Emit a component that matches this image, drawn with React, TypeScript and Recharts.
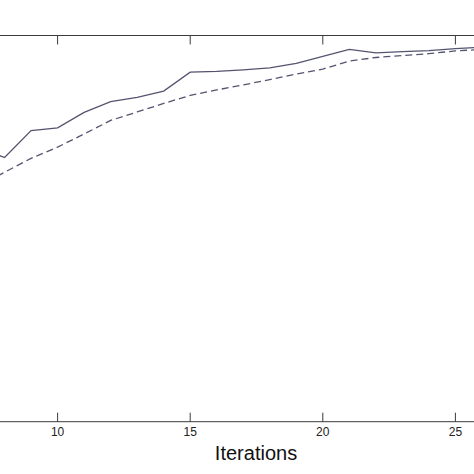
import { LineChart, Line, XAxis, YAxis } from "recharts";

// iterations shown (plot is cropped on both sides)
const iterations = [7, 8, 9, 10, 11, 12, 13, 14, 15, 16, 17, 18, 19, 20, 21, 22, 23, 24, 25, 26];
const solidSeries = [
  0.711, 0.684, 0.754, 0.761, 0.801, 0.829, 0.84, 0.856, 0.905, 0.907,
  0.911, 0.916, 0.928, 0.946, 0.964, 0.955, 0.958, 0.961, 0.966, 0.97,
];
const dashedSeries = [
  0.608, 0.646, 0.682, 0.711, 0.745, 0.78, 0.802, 0.824, 0.845, 0.859,
  0.872, 0.886, 0.9, 0.913, 0.934, 0.943, 0.948, 0.953, 0.96, 0.964,
];
const xTicks = [10, 15, 20, 25];

const data = iterations.map((it, i) => ({
  it,
  solid: solidSeries[i],
  dashed: dashedSeries[i],
}));

const AXIS = "#3a3a3a";
const LINE = "#545470";
const FONT = "'Liberation Sans', Arial, sans-serif";

const BottomTick = ({ x, y, payload }: any) => (
  <g>
    <line x1={x} y1={y} x2={x} y2={y - 9} stroke={AXIS} />
    <text x={x} y={y + 14} textAnchor="middle" fontSize={12} fill="#222" fontFamily={FONT}>
      {payload.value}
    </text>
  </g>
);

const TopTick = ({ x, y }: any) => (
  <line x1={x} y1={y} x2={x} y2={y + 9} stroke={AXIS} />
);

export default function App() {
  return (
    <div
      style={{
        position: "fixed",
        left: 0,
        top: 0,
        width: 474,
        height: 474,
        overflow: "hidden",
        background: "#fff",
      }}
    >
      <div style={{ position: "absolute", left: -84.65, top: 0 }}>
        <LineChart
          width={683}
          height={474}
          data={data}
          margin={{ top: 5.5, right: 10, bottom: 22.3, left: 10 }}
        >
          <XAxis
            dataKey="it"
            type="number"
            domain={[5, 30]}
            ticks={xTicks}
            interval={0}
            tickSize={0}
            tickMargin={0}
            tickLine={false}
            height={30}
            axisLine={{ stroke: AXIS }}
            tick={<BottomTick />}
          />
          <XAxis
            xAxisId="top"
            orientation="top"
            dataKey="it"
            type="number"
            domain={[5, 30]}
            ticks={xTicks}
            interval={0}
            tickSize={0}
            tickMargin={0}
            tickLine={false}
            height={30}
            axisLine={{ stroke: AXIS }}
            tick={<TopTick />}
          />
          <YAxis hide domain={[0, 1]} allowDataOverflow />
          <Line
            dataKey="solid"
            type="linear"
            stroke={LINE}
            strokeWidth={1.3}
            dot={false}
            isAnimationActive={false}
          />
          <Line
            dataKey="dashed"
            type="linear"
            stroke={LINE}
            strokeWidth={1.3}
            strokeDasharray="7 4"
            dot={false}
            isAnimationActive={false}
          />
        </LineChart>
      </div>
      <svg
        width={474}
        height={474}
        style={{ position: "absolute", left: 0, top: 0, pointerEvents: "none" }}
      >
        <text x={256} y={459.5} textAnchor="middle" fontSize={20} fill="#111" fontFamily={FONT}>
          Iterations
        </text>
      </svg>
    </div>
  );
}
